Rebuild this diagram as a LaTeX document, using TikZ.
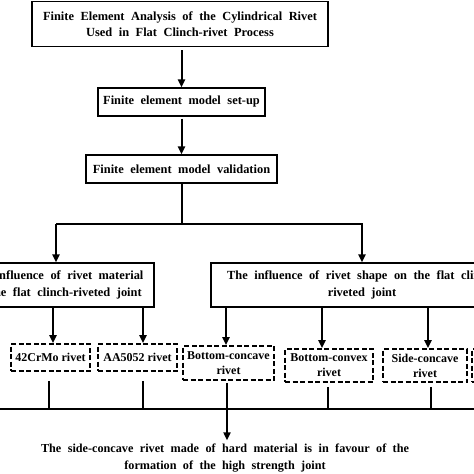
\documentclass[tikz,border=0pt]{standalone}
\usepackage{fontspec}
\setmainfont{Liberation Serif}[WordSpace=2.1]
\newfontfamily\rivetfont{Liberation Serif}
\usetikzlibrary{arrows.meta, positioning, calc}

\begin{document}
\begin{tikzpicture}[x=1pt, y=-1pt, >={Triangle[width=7pt,length=8pt]},
  box/.style={draw, line width=1.3pt, align=center, inner sep=0pt,
    font=\bfseries\fontsize{12.4}{16.5}\selectfont},
  dbox/.style={box, line width=1.6pt, dash pattern=on 5pt off 2.5pt,
    font=\rivetfont\bfseries\fontsize{12}{15}\selectfont},
  link/.style={line width=2pt}]
  \useasboundingbox (0,0) rectangle (474,474);
  \clip (0,0) rectangle (474,474);
  % Main chain
  \node[box, minimum width=296pt, minimum height=45pt] (fea) at (180,24)
    {Finite Element Analysis of the Cylindrical Rivet\\Used in Flat Clinch-rivet Process};
  \node[box, minimum width=167pt, minimum height=28pt] (setup) at (181.5,102)
    {Finite element model set-up};
  \node[box, minimum width=191pt, minimum height=28pt] (valid) at (181.5,169)
    {Finite element model validation};
  % Two studies
  \node[box, minimum width=196pt, minimum height=44pt] (mat) at (56,285)
    {The influence of rivet material\\on the flat clinch-riveted joint};
  \node[box, minimum width=302pt, minimum height=44pt] (shape) at (362,285)
    {The influence of rivet shape on the flat clinch-\\riveted joint};
  % Rivets
  \node[dbox, minimum width=79pt, minimum height=27pt] (crmo) at (50.5,357.5) {42CrMo rivet};
  \node[dbox, minimum width=79pt, minimum height=27pt] (aa) at (137.5,357.5) {AA5052 rivet};
  \node[dbox, minimum width=91pt, minimum height=34pt] (bcave) at (228.5,363) {Bottom-concave\\rivet};
  \node[dbox, minimum width=88pt, minimum height=33pt] (bvex) at (329,365.5) {Bottom-convex\\rivet};
  \node[dbox, minimum width=84pt, minimum height=33pt] (scave) at (425,365.5) {Side-concave\\rivet};
  \node[dbox, minimum width=84pt, minimum height=33pt] (more) at (514,365.5) {};
  % Conclusion
  \node[align=center, font=\bfseries\fontsize{12.2}{17}\selectfont] (concl) at (225,458)
    {The side-concave rivet made of hard material is in favour of the\\formation of the high strength joint};
  % Arrows
  \draw[link, ->] (fea.south -| setup) ++(0,3) -- (setup);
  \draw[link, ->] (setup.south) ++(0,2) -- (valid);
  \coordinate (split) at ($(valid.south)+(0,40)$);
  \draw[link] (valid) -- (split);
  \draw[link, ->] (split -| mat.north) -- (split -| shape.north) -- (shape);
  \draw[link, ->] (split -| mat.north) -- (mat);
  \draw[link, ->] ([xshift=2.5pt]crmo.north |- mat.south) -- ([xshift=2.5pt]crmo.north);
  \draw[link, ->] ([xshift=5.5pt]aa.north |- mat.south) -- ([xshift=5.5pt]aa.north);
  \draw[link, ->] ([xshift=-2.5pt]bcave.north |- shape.south) -- ([xshift=-2.5pt]bcave.north);
  \draw[link, ->] ([xshift=-7pt]bvex.north |- shape.south) -- ([xshift=-7pt]bvex.north);
  \draw[link, ->] ([xshift=3pt]scave.north |- shape.south) -- ([xshift=3pt]scave.north);
  % Collecting bus
  \coordinate (bus) at (0,409);
  \draw[link] (bus) -- (474,409);
  \draw[link] ([xshift=-1.5pt]crmo.south) ++(0,9) -- ([xshift=-1.5pt]crmo.south |- bus);
  \draw[link] ([xshift=5.5pt]aa.south) ++(0,9) -- ([xshift=5.5pt]aa.south |- bus);
  \draw[link] ([xshift=-1.5pt]bcave.south) ++(0,2) -- ([xshift=-1.5pt]bcave.south |- bus);
  \draw[link] ([xshift=-1pt]bvex.south) ++(0,4) -- ([xshift=-1pt]bvex.south |- bus);
  \draw[link] ([xshift=6pt]scave.south) ++(0,4) -- ([xshift=6pt]scave.south |- bus);
  \draw[link, ->] ([xshift=-1.5pt]bcave.south |- bus) -- ([xshift=-1.5pt]bcave.south |- concl.north);
\end{tikzpicture}
\end{document}
